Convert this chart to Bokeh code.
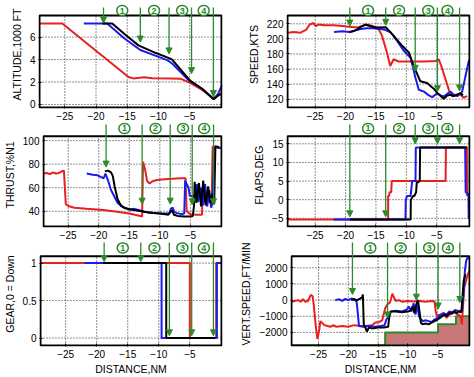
import numpy as np
from bokeh.plotting import figure
from bokeh.layouts import column, row
from bokeh.models import Arrow, NormalHead, Label, Range1d, FixedTicker, BoxAnnotation
from bokeh.embed import file_html
from bokeh.resources import INLINE

RED = "#e8201f"
BLUE = "#1a1aee"
BLACK = "#000000"
GREEN = "#2b8a2b"
FILL = "#c87878"
FONT = "Liberation Sans"

# ---------------- data ----------------
x_ticks = [-25, -20, -15, -10, -5]

# Altitude (1000 ft)
alt_x_red = [-29.05, -25.4, -14.8, -14.0, -13.0, -12.3, -11.0, -8.0, -6.5, -5.0, -3.0, -1.2, -0.6, 0.0]
alt_red = [7.2, 7.2, 2.45, 2.32, 2.38, 2.42, 2.33, 2.32, 2.3, 1.95, 1.3, 0.55, 0.8, 1.0]
alt_x_blue = [-21.96, -18.2, -15.5, -12.9, -10.5, -8.6, -7.8, -5.15, -3.0, -1.16, -0.5, 0.18]
alt_blue = [7.2, 7.2, 5.9, 4.85, 4.35, 3.95, 3.65, 2.16, 1.4, 0.47, 0.9, 1.7]
alt_x_black = [-18.97, -17.4, -15.3, -13.2, -10.5, -8.1, -7.8, -4.9, -3.0, -1.16, -0.36, 0.0]
alt_black = [7.2, 7.2, 6.2, 5.26, 4.6, 4.08, 4.0, 2.1, 1.4, 0.47, 0.83, 0.9]

# Speed (kts)
spd_x_red = [-29.5, -28.5, -27.5, -27.0, -26.5, -25.9, -25.3, -24.9, -24.5, -23.5, -22, -20.5, -19.5,
             -18, -17.2, -16.6, -16.0, -15.1, -14.5, -14.0, -13.2, -12.65, -12.1, -11.3, -9, -7, -5.2,
             -4.7, -4.3, -3.0, -2.5, -1.8, -1.2, -0.6, 0.0]
spd_red = [208, 209, 208, 210, 212, 219, 221, 217, 219, 218, 218, 217, 216,
           215, 217, 219, 218, 215.5, 212, 204, 182, 164, 173, 170, 170, 170, 170.5,
           173, 165, 132, 124, 126, 127, 122, 124]
spd_x_blue = [-21.9, -20.5, -19.3, -18.5, -17.5, -16.5, -15.5, -14.3, -13.5, -12.6, -11.5, -10.4, -9.3,
              -8.5, -7.96, -7.1, -6.3, -5.76, -4.9, -4.4, -3.85, -3.3, -2.75, -2.2, -1.65, -1.2, -0.82,
              -0.3, 0.3]
spd_blue = [209, 210, 209, 211, 213, 214, 214, 213, 212, 208.8, 197, 184, 175,
            148, 132.5, 130, 125, 122.7, 128, 125, 123.5, 127, 130, 126, 124, 127, 130,
            150, 172]
spd_x_black = [-19.4, -18.8, -18.2, -17.5, -16.8, -16.0, -15.0, -13.4, -12.07, -10.7, -9.6, -8.8, -7.7,
               -6.6, -5.5, -4.9, -4.3, -3.85, -3.3, -2.75, -2.2, -1.65, -1.1, -0.7]
spd_black = [209, 210, 212, 216, 219, 217, 215, 215.5, 204, 190.8, 182, 164, 143.7,
             141.5, 134, 128, 124, 120.4, 125, 126, 124, 126, 128, 125]

# Thrust (%N1)
thr_x_red = [-29.05, -28.5, -28.0, -27.5, -27.0, -26.5, -26.0, -25.7, -25.4, -25.0, -24.0, -22.0, -19.3,
             -17.0, -15.0, -13.2, -12.9, -12.75, -12.4, -12.1, -11.7, -11.2, -10.5, -9.7, -8.0, -6.5,
             -5.8, -5.6, -5.0, -4.0, -3.1, -3.0, -2.6, -2.2, -1.8, -1.5, -1.35, -1.0, -0.5, 0.0]
thr_red = [72, 72.5, 71.5, 73, 72, 72.5, 74, 74.5, 46, 44.5, 43, 42, 41,
           39.5, 38, 36, 35.5, 82, 75, 66, 63.5, 65.5, 66.5, 67, 67.5, 68,
           68, 40, 37.5, 37, 37, 55, 48, 56, 47, 50, 95, 94.5, 94, 94]
thr_x_blue = [-21.96, -21.0, -20.2, -19.6, -19.2, -18.9, -18.5, -18.0, -17.7, -16.9, -16.1, -15.0, -14.2,
              -13.5, -12.5, -11.0, -9.5, -8.5, -8.2, -7.9, -7.6, -6.5, -6.0, -5.85, -5.5, -5.3, -5.1,
              -4.5, -4.2, -3.95, -3.7, -3.3, -2.95, -2.6, -2.25, -1.9, -1.6, -1.35,
              -1.15, -1.0, -0.5, 0.0]
thr_blue = [72, 71, 70.5, 69, 68, 72, 66.5, 58, 55, 47, 43.7, 41.5, 42,
            41, 39.5, 38.5, 38, 38, 42, 43, 39, 37.5, 38, 66, 62, 60, 53,
            53, 54, 63, 48, 60, 45, 63, 44, 58, 43, 47,
            90, 95, 94, 93.5]
thr_x_black = [-19.0, -18.5, -18.0, -17.7, -17.4, -16.9, -16.4, -15.8, -14.8, -13.96, -13.0, -12.0, -10.0,
               -8.6, -8.3, -8.0, -7.7, -7.0, -6.0, -5.0, -4.6, -4.4, -4.3, -4.0, -3.6, -3.25,
               -2.9, -2.5, -2.1, -1.75, -1.4, -1.1, -0.9, -0.6, -0.3]
thr_black = [74, 74.5, 73, 70, 61, 50, 45, 42.8, 41.5, 40.8, 40, 39, 38,
             37, 39, 41, 37, 36, 35.5, 35.5, 36, 45, 65, 47, 64, 44,
             66, 45, 61, 47, 55, 46, 95, 95, 94]

# Flaps (deg)
flp_x_red = [-29.55, -13.0, -13.0, -12.85, -12.75, -12.5, -12.4, -3.55, -3.5, -0.05, -0.02]
flp_red = [-5.3, -5.3, 1, 1, 2, 2, 5, 5, 14, 14, 1]
flp_x_blue = [-21.96, -10.15, -10.1, -9.9, -9.3, -9.05, -8.5, -8.45, -0.33, -0.25, 0.2, 0.25, 0.38]
flp_blue = [-5.3, -5.3, 0, 1, 1, 5, 5, 14, 14, 2, 1.5, -5, -5]
flp_x_black = [-19.3, -9.3, -9.27, -8.9, -8.7, -8.4, -8.3, -7.8, -7.74, 0.0]
flp_black = [-5.3, -5.3, 0, 1, 1, 2, 4.5, 5, 14, 14]

# Gear (0 = down)
gear_x_red = [-29.05, -5.0, -5.0, -0.75, -0.75, 0.1]
gear_red = [1, 1, 0, 0, 1, 1]
gear_x_blue = [-21.96, -9.55, -9.55, -0.65, -0.65, 0.1]
gear_blue = [1, 1, 0, 0, 1, 1]
gear_x_black = [-18.97, -8.8, -8.8, -0.9]
gear_black = [1, 1, 0, 0]

# Vertical speed (ft/min)
vs_x_red = [-29.55, -29.0, -28.5, -28.0, -27.6, -27.2, -26.8, -26.3, -26.0, -25.8, -25.5, -25.2, -24.9,
            -24.7, -24.3, -24.0, -23.5, -23.0, -22.5, -22.0, -21.0, -20.0, -19.0, -18.0, -17.0, -16.0,
            -15.5, -14.8, -14.3, -13.8, -13.4, -13.0, -12.8, -12.6, -12.3, -12.0, -11.5, -11.0, -10.0,
            -9.0, -8.0, -7.0, -6.0, -5.5, -5.3, -5.1, -4.8, -4.4, -4.0, -3.5, -3.0, -2.5, -2.0, -1.5,
            -1.1, -0.9, -0.7, -0.5, -0.2, 0.1, 0.38]
vs_red = [-100, -50, 0, -100, 50, -100, -50, 320, 250, -300, -1500, -2400, -1900,
          -1300, -1450, -1550, -1600, -1650, -1550, -1650, -1600, -1650, -1550, -1600, -1600, -1550,
          -1400, -1350, -1250, -500, -250, -150, 100, 400, 150, -50, 0, -100, -50,
          -80, -50, -100, -50, -80, -700, -1000, -900, -1000, -800, -1100, -900, -700, -800, -900,
          -1000, -1500, -300, 800, 1200, 1600, 1800]
vs_x_blue = [-22.2, -21.5, -21.0, -20.5, -20.0, -19.5, -19.0, -18.6, -18.4, -18.2, -17.5, -16.5, -15.5,
             -14.5, -13.9, -13.6, -13.2, -12.8, -12.0, -11.0, -10.2, -9.8, -9.4, -9.0, -8.7, -8.4,
             -8.1, -7.8, -7.4, -7.0, -6.5, -6.0, -5.5, -5.0, -4.5, -4.0, -3.5, -3.0, -2.5, -2.0, -1.5,
             -1.2, -0.9, -0.6, -0.4, -0.2, 0.0, 0.3]
vs_blue = [0, 50, -50, 80, 0, 100, 50, -100, -800, -1600, -1650, -1600, -1650,
           -1600, -1550, -1200, -1000, -700, -650, -700, -600, -400, -700, -200, -900, -300,
           -1000, -1200, -1300, -1250, -1300, -1350, -1200, -1100, -900, -800, -900, -700, -800, -600, -700,
           -650, -700, 500, 1800, 2400, 2600, 2600]
vs_x_black = [-19.5, -19.0, -18.5, -18.0, -17.7, -17.55, -17.4, -17.0, -16.9, -16.5, -16.0, -15.0, -14.0,
              -13.3, -13.1, -12.9, -12.0, -11.0, -10.0, -9.5, -9.2, -8.9, -8.6, -8.3, -8.1, -7.8, -7.5,
              -7.0, -6.5, -6.0, -5.5, -5.0, -4.6, -4.2, -3.8, -3.4, -3.0, -2.6, -2.2, -1.8, -1.4, -1.0,
              -0.8, -0.6, -0.3]
vs_black = [0, 50, 0, 100, 150, 350, -1500, -1800, -1950, -1700, -1750, -1700, -1700,
            -1650, -1000, -700, -700, -750, -700, -650, -400, -800, -300, 0, -500, -1400, -1500,
            -1450, -1500, -1400, -1300, -1200, -1100, -1000, -900, -1000, -800, -850, -700, -800, -700, -750,
            200, 1200, 1600]
# limit envelope (shaded) for vertical speed
lim_x = [-29.55, -13.8, -4.9, -1.9, 0.38]
lim_y = [-2790, -2000, -1500, -1000, -1000]

# event markers (arrows) and phase numbers
phases = ["1", "2", "3", "4"]
ev_left = [-18.8, -12.9, -8.3, -4.7, -1.2]
ev_right = [-19.3, -13.4, -8.55, -4.9, -1.25]
ph_left = [-15.8, -10.7, -6.2, -2.75]
ph_right = [-16.3, -11.2, -6.4, -3.25]
tips_alt = [7.25, 5.55, 4.5, 2.75, 0.7]
tips_spd = [217, 218, 157, 130, 131]
tips_thr = [77.5, 46, 46, 45.5, 45.5]
tips_flp = [-4.6, -4.6, 15.0, 15.0, 15.0]
tips_gear = [1.02, 1.02, 0.03, 0.03, 0.03]
tips_vs = [350, -1100, 0, -550, -150]

XR_L = (-29.05, 0.1)
XR_R = (-29.55, 0.38)


class Panel:
    """A figure whose plotting frame extends to the top of the canvas, so that the
    event arrows and phase circles can be drawn above the visible box."""

    def __init__(self, W, H, bl, br, bt, bb, xr, yr, yticks, ylabel, xlabel=None, overrides=None):
        self.xr, self.yr, self.bt = xr, yr, bt
        fw = W - bl - br
        self.fh = H - bt - bb
        sx = (xr[1] - xr[0]) / fw
        sy = (yr[1] - yr[0]) / self.fh
        pad = 1.0
        x_range = Range1d(xr[0] - pad * sx, xr[1] + pad * sx)
        y_range = Range1d(yr[0] - pad * sy, yr[1] + bt * sy)
        p = figure(width=W, height=H, x_range=x_range, y_range=y_range,
                   output_backend="svg", toolbar_location=None,
                   min_border_left=int(bl - pad), min_border_right=int(br - pad),
                   min_border_top=0, min_border_bottom=int(bb - pad))
        p.background_fill_color = "white"
        p.border_fill_color = "white"
        p.outline_line_color = None
        p.xaxis.ticker = FixedTicker(ticks=x_ticks)
        p.yaxis.ticker = FixedTicker(ticks=yticks)
        for ax in p.axis:
            ax.axis_line_color = None
            ax.major_tick_in = 3
            ax.major_tick_out = 0
            ax.minor_tick_in = 0
            ax.minor_tick_out = 0
            ax.major_tick_line_color = "black"
            ax.major_label_text_font = FONT
            ax.major_label_text_font_size = "10px"
            ax.major_label_text_color = "black"
            ax.axis_label_text_font = FONT
            ax.axis_label_text_font_size = "10.5px"
            ax.axis_label_text_font_style = "normal"
            ax.axis_label_text_color = "black"
        p.xaxis.major_label_standoff = 3
        p.yaxis.major_label_standoff = 3
        p.yaxis.axis_label = ylabel
        p.yaxis.axis_label_standoff = 4
        if overrides:
            p.yaxis.major_label_overrides = overrides
        if xlabel:
            p.xaxis.axis_label = xlabel
            p.xaxis.axis_label_standoff = 2
        p.grid.visible = False
        # dotted grid restricted to the visible box
        gx = [t for t in x_ticks if xr[0] < t < xr[1]]
        p.segment(x0=gx, y0=[yr[0]] * len(gx), x1=gx, y1=[yr[1]] * len(gx),
                  line_color="black", line_dash="1 2", line_width=1, line_alpha=0.85)
        gy = [t for t in yticks if yr[0] < t < yr[1]]
        p.segment(x0=[xr[0]] * len(gy), y0=gy, x1=[xr[1]] * len(gy), y1=gy,
                  line_color="black", line_dash="1 2", line_width=1, line_alpha=0.85)
        self.p = p

    def series(self, xs, ys):
        for x, y, c in zip(xs, ys, [RED, BLUE, BLACK]):
            self.p.line(x, y, line_color=c, line_width=2)

    def box(self):
        xr, yr = self.xr, self.yr
        self.p.add_layout(BoxAnnotation(left=xr[0], right=xr[1], bottom=yr[0], top=yr[1],
                                        fill_alpha=0, line_color="black", line_width=2,
                                        line_alpha=1))

    def annotate(self, ev, tips, ph, py_start, py_circ):
        yr, bt = self.yr, self.bt
        span = yr[1] - yr[0]
        y0 = yr[1] + (bt - py_start) * span / self.fh
        yc = yr[1] + (bt - py_circ) * span / self.fh
        for x, t in zip(ev, tips):
            self.p.add_layout(Arrow(end=NormalHead(size=6, fill_color=GREEN, line_color=GREEN, line_width=1),
                                    x_start=x, y_start=y0, x_end=x, y_end=t,
                                    line_color=GREEN, line_width=1.3))
        for x, s in zip(ph, phases):
            self.p.add_layout(Label(x=x, y=yc, text=s, text_align="center", text_baseline="middle",
                                    text_font=FONT, text_font_size="9px", text_font_style="bold",
                                    text_color=GREEN, border_line_color=GREEN, border_line_width=1.5,
                                    background_fill_color="white", padding=(3, 2), border_radius=6))


# geometry of rows: (height, top border, bottom border) and columns: (width, left, right)
R1 = (122, 15, 15)
R2 = (119, 14, 14)
R3 = (136, 15, 31)
CL = (237, 39, 16)
CR = (237, 50, 5)

# Altitude
a1 = Panel(CL[0], R1[0], CL[1], CL[2], R1[1], R1[2], XR_L, (-0.27, 7.92), [0, 2, 4, 6], "ALTITUDE,1000 FT")
a1.series([alt_x_red, alt_x_blue, alt_x_black], [alt_red, alt_blue, alt_black])
a1.box()
a1.annotate(ev_left, tips_alt, ph_left, 7, 10)

# Speed
a2 = Panel(CR[0], R1[0], CR[1], CR[2], R1[1], R1[2], XR_R, (109, 231),
           [120, 140, 160, 180, 200, 220], "SPEED,KTS")
a2.series([spd_x_red, spd_x_blue, spd_x_black], [spd_red, spd_blue, spd_black])
a2.box()
a2.annotate(ev_right, tips_spd, ph_right, 7, 10)

# Thrust
a3 = Panel(CL[0], R2[0], CL[1], CL[2], R2[1], R2[2], XR_L, (27, 103.6), [40, 60, 80, 100], "THRUST,%N1")
a3.series([thr_x_red, thr_x_blue, thr_x_black], [thr_red, thr_blue, thr_black])
a3.box()
a3.annotate(ev_left, tips_thr, ph_left, 2, 6)

# Flaps
a4 = Panel(CR[0], R2[0], CR[1], CR[2], R2[1], R2[2], XR_R, (-7.2, 17), [-5, 0, 5, 10, 15], "FLAPS,DEG")
a4.series([flp_x_red, flp_x_blue, flp_x_black], [flp_red, flp_blue, flp_black])
a4.box()
a4.annotate(ev_right, tips_flp, ph_right, 2, 6)

# Gear
a5 = Panel(CL[0], R3[0], CL[1], CL[2], R3[1], R3[2], XR_L, (-0.1, 1.09), [0, 0.5, 1], "GEAR,0 = Down",
           xlabel="DISTANCE,NM", overrides={0: "0", 0.5: "0.5", 1: "1"})
a5.series([gear_x_red, gear_x_blue, gear_x_black], [gear_red, gear_blue, gear_black])
a5.box()
a5.annotate(ev_left, tips_gear, ph_left, 1, 6.5)

# Vertical speed
yr6 = (-2810, 2710)
a6 = Panel(CR[0], R3[0], CR[1], CR[2], R3[1], R3[2], XR_R, yr6, [-2000, -1000, 0, 1000, 2000],
           "VERT.SPEED,FT/MIN", xlabel="DISTANCE,NM")
a6.p.varea_step(x=lim_x, y1=[yr6[0]] * len(lim_x), y2=lim_y, step_mode="after",
                fill_color=FILL, fill_alpha=1)
a6.p.step(lim_x, lim_y, mode="after", line_color=GREEN, line_width=2)
a6.series([vs_x_red, vs_x_blue, vs_x_black], [vs_red, vs_blue, vs_black])
a6.box()
a6.annotate(ev_right, tips_vs, ph_right, 1, 6.5)

layout = column(row(a1.p, a2.p), row(a3.p, a4.p), row(a5.p, a6.p))
open("out.html", "w").write(file_html(layout, INLINE))
